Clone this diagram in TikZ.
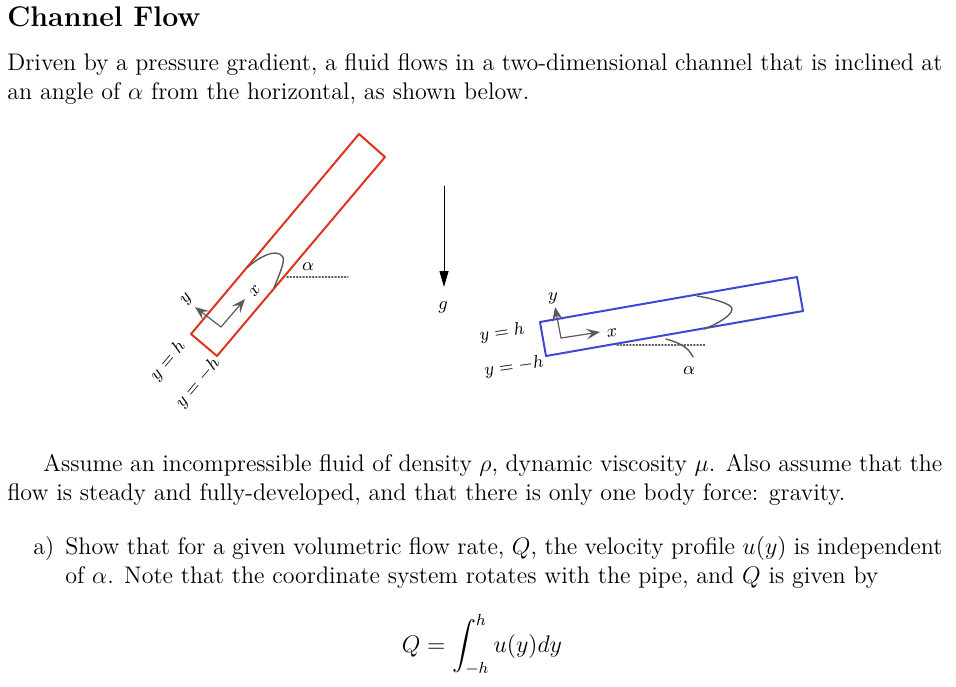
\documentclass[tikz,border=0pt]{standalone}
\usepackage{amsmath}
\usepackage{amssymb}
\usepackage[usenames]{xcolor}
\usetikzlibrary{arrows.meta}
\definecolor{chanred}{RGB}{222,52,30}
\definecolor{chanblue}{RGB}{62,72,212}
\definecolor{axisgray}{RGB}{90,90,90}
\begin{document}
\begin{tikzpicture}[line cap=round,line join=round,>={Stealth[length=7pt,width=5.5pt,inset=3pt]},x=0.5pt,y=-0.5pt,
  bodytext/.style={anchor=base west,inner sep=0pt,align=justify,font=\fontsize{12}{14.5}\selectfont},
  chan/.style={line width=1pt},
  axis/.style={->,axisgray,line width=0.6pt},
  prof/.style={axisgray,line width=0.7pt},
  level/.style={densely dotted,black!65,line width=0.6pt},
  mark label/.style={inner sep=0pt,font=\fontsize{9.5}{11}\selectfont}]
\useasboundingbox (0,0) rectangle (956,686);
% text
\node[anchor=base west,inner sep=0pt,font=\fontsize{14.2}{17}\selectfont\bfseries] (title) at (7,26) {Channel Flow};
\node[bodytext,text width=467.5pt] (intro) at (7,70) {Driven by a pressure gradient, a fluid flows in a two-dimensional channel that is inclined at an angle of $\alpha$ from the horizontal, as shown below.};
\node[bodytext,text width=467.5pt] (assume) at (7,471) {\hspace*{18pt}Assume an incompressible fluid of density $\rho$, dynamic viscosity $\mu$. Also assume that the flow is steady and fully-developed, and that there is only one body force: gravity.};
\node[bodytext] (parta) at (33,554) {a)};
\node[bodytext,text width=438.5pt] (question) at (65,554) {Show that for a given volumetric flow rate, $Q$, the velocity profile $u(y)$ is independent of $\alpha$. Note that the coordinate system rotates with the pipe, and $Q$ is given by};
\node[inner sep=0pt,font=\fontsize{12}{14.5}\selectfont] (flowrate) at (482,645) {$\displaystyle Q = \int_{-h}^{h} u(y)dy$};
% inclined channel
\coordinate (ra) at (191,334);
\coordinate (rb) at (217,356);
\coordinate (rc) at (385,157);
\coordinate (rd) at (359,134);
\draw[chan,chanred] (ra)-- (rb);
\draw[chan,chanred] (rb)-- (rc);
\draw[chan,chanred] (rc)-- (rd);
\draw[chan,chanred] (rd)-- (ra);
\coordinate (ro) at (221,327);
\coordinate (rx) at (245,299);
\coordinate (ry) at (195,307);
\draw[axis] (ro)-- (rx);
\draw[axis] (ro)-- (ry);
\draw[prof] (248,267) .. controls (258,258) and (276,247) .. (283,257) .. controls (285,263) and (278,277) .. (274,288);
\draw[level] (287,277)-- (348,277);
\node[mark label] (ralpha) at (308,267) {$\alpha$};
\node[mark label,rotate=50] (rxl) at (255,291) {$x$};
\node[mark label,rotate=50] (ryl) at (187,299) {$y$};
\node[mark label,rotate=50] (rtop) at (168,361) {$y=h$};
\node[mark label,rotate=50] (rbot) at (198,383) {$y=-h$};
% gravity
\coordinate (gtop) at (444,186);
\coordinate (gbot) at (444,287);
\draw[-{Stealth[length=8pt,width=4.5pt,inset=0pt]},line width=0.5pt] (gtop)-- (gbot);
\node[mark label] (gl) at (443,307) {$g$};
% shallow channel
\coordinate (ba) at (540,322);
\coordinate (bb) at (546,356);
\coordinate (bc) at (803,311);
\coordinate (bd) at (797,277);
\draw[chan,chanblue] (ba)-- (bb);
\draw[chan,chanblue] (bb)-- (bc);
\draw[chan,chanblue] (bc)-- (bd);
\draw[chan,chanblue] (bd)-- (ba);
\coordinate (bo) at (561,338);
\coordinate (bx) at (600,332);
\coordinate (by) at (555,307);
\draw[axis] (bo)-- (bx);
\draw[axis] (bo)-- (by);
\draw[prof] (697,296) .. controls (715,299) and (732,304) .. (732,309) .. controls (732,316) and (715,325) .. (704,329);
\draw[level] (617,345)-- (705,345);
\draw[prof] (666,339) .. controls (680,343) and (688,347) .. (693,357);
\node[mark label] (balpha) at (689,371) {$\alpha$};
\node[mark label,rotate=8] (bxl) at (612,333) {$x$};
\node[mark label] (byl) at (553,298) {$y$};
\node[mark label,rotate=8] (btop) at (502,333) {$y=h$};
\node[mark label,rotate=8] (bbot) at (514,367) {$y=-h$};
\end{tikzpicture}
\end{document}
